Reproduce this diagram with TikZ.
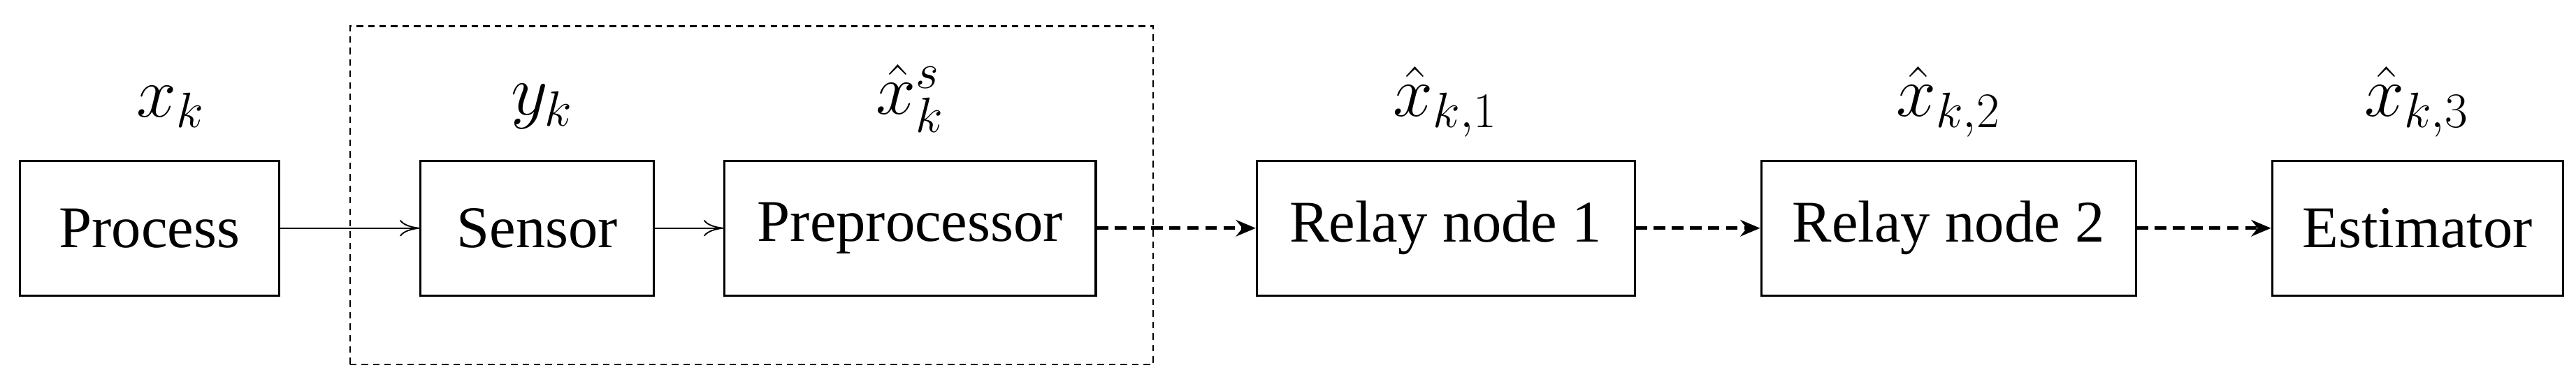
\documentclass[tikz,border=0pt]{standalone}
\usepackage{fontspec}
\setmainfont{Liberation Serif}
\usetikzlibrary{arrows.meta}
\begin{document}
\begin{tikzpicture}[x=1pt,y=1pt,
  blk/.style={draw,line width=1.3pt,minimum height=82pt,inner sep=0pt,font=\fontsize{36}{42}\selectfont},
  lab/.style={scale=1.75,transform shape,font=\fontsize{24}{28}\selectfont},
  thin/.style={-{To[length=12pt,width=10pt]},line width=0.8pt},
  dsh/.style={-{Stealth[length=12pt,width=10pt]},line width=2pt,dash pattern=on 7pt off 4pt}]
\useasboundingbox (0,0) rectangle (1568,238);
\node[blk,minimum width=158pt] (p) at (91,99) {Process};
\node[blk,minimum width=142pt] (s) at (327,99) {Sensor};
\node[blk,minimum width=226pt] (pp) at (554,99) {Preprocessor};
\node[blk,minimum width=230pt] (r1) at (880,99) {Relay node 1};
\node[blk,minimum width=228pt] (r2) at (1186,99) {Relay node 2};
\node[blk,minimum width=177pt] (e) at (1471.5,99) {Estimator};
\draw[dashed,line width=1pt,dash pattern=on 4pt off 3pt] (213,16) rectangle (702,222);
\node[lab] (lx) at (104,173) {$x_k$};
\node[lab] (ly) at (330,173) {$y_k$};
\node[lab] (lp) at (554,178) {$\hat{x}_k^{s}$};
\node[lab] (l1) at (880,176) {$\hat{x}_{k,1}$};
\node[lab] (l2) at (1186,176) {$\hat{x}_{k,2}$};
\node[lab] (l3) at (1471,176) {$\hat{x}_{k,3}$};
\draw[thin] (p) -- (s);
\draw[thin] (s) -- (pp);
\draw[dsh] (pp) -- (r1);
\draw[dsh] (r1) -- (r2);
\draw[dsh] (r2) -- (e);
\end{tikzpicture}
\end{document}
